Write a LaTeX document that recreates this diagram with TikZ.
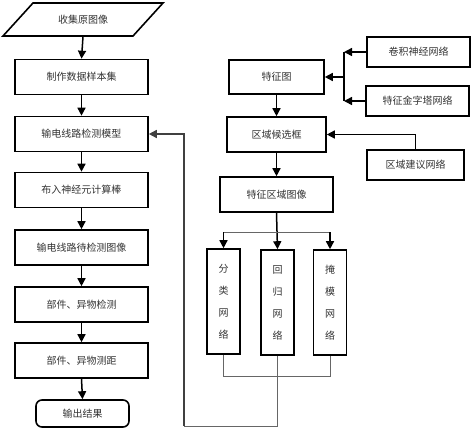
\documentclass[tikz,border=0pt]{standalone}
\usepackage{fontspec}
\newfontfamily\cjk{Noto Sans CJK SC}
\usetikzlibrary{arrows.meta}

\tikzstyle{block} = [draw, rectangle, line width=1.6pt, minimum height=35pt, inner sep=0pt, text=black!80, font=\cjk\fontsize{10}{12}\selectfont]
\tikzstyle{net} = [block, minimum height=30pt]
\tikzstyle{head} = [block, minimum width=33pt, minimum height=105pt, align=center, font=\cjk\fontsize{10}{22}\selectfont]
\tikzstyle{flow} = [line width=1.5pt, -{Triangle[length=8pt,width=8pt]}]
\tikzstyle{link} = [line width=0.9pt, draw=black!60]

\begin{document}
\begin{tikzpicture}[x=1pt, y=-1pt]

\def\colB{black!75};

\useasboundingbox (0,0) rectangle (474,440);

\draw[line width=1.6pt] (3,36) -- (33,3) -- (163,3) -- (133,36) -- cycle;
\node at (83,19.5)[block,draw=none,minimum width=120pt,minimum height=33pt]
      (collect) {收集原图像};

\node at (81.5,77)[block,minimum width=133pt] (sample) {制作数据样本集};
\node at (81.5,134)[block,minimum width=133pt] (model) {输电线路检测模型};
\node at (81.5,190)[block,minimum width=133pt] (stick) {布入神经元计算棒};
\node at (81.5,247.5)[block,minimum width=133pt] (pending) {输电线路待检测图像};
\node at (81.5,304.5)[block,minimum width=133pt] (detect) {部件、异物检测};
\node at (81.5,360.5)[block,minimum width=133pt] (range) {部件、异物测距};
\node at (82.5,413.5)[block,rounded corners=6pt,
      minimum width=93pt,minimum height=27pt] (result) {输出结果};

\draw[flow] (collect.south) -- (sample.north);
\draw[flow] (sample.south) -- (model.north);
\draw[flow] (model.south) -- (stick.north);
\draw[flow] (stick.south) -- (pending.north);
\draw[flow] (pending.south) -- (detect.north);
\draw[flow] (detect.south) -- (range.north);
\draw[flow] (range.south) -- (result.north);

\node at (276.5,77)[block,minimum width=95pt,minimum height=34pt] (fmap) {特征图};
\node at (276.5,134.5)[block,minimum width=99pt] (prop) {区域候选框};
\node at (276.5,194.5)[block,minimum width=113pt] (roi) {特征区域图像};

\node at (418.5,52)[net,minimum width=103pt] (cnn) {卷积神经网络};
\node at (417.5,101)[net,minimum width=103pt] (fpn) {特征金字塔网络};
\node at (415.5,165)[net,minimum width=97pt] (rpn) {区域建议网络};

\node at (223.5,301.5)[head] (cls) {分\\类\\网\\络};
\node at (277.5,302.5)[head] (reg) {回\\归\\网\\络};
\node at (330,302.5)[head] (mask) {掩\\模\\网\\络};

\coordinate (fork) at (344,77);
\coordinate (split) at (277.5,232);
\coordinate (back) at (184,426);

\draw[flow] (cnn.west) -- (cnn.west -| fork);
\draw[flow] (fpn.west) -- (fpn.west -| fork);
\draw[line width=1.5pt] (cnn.west -| fork) -- (fpn.west -| fork);
\draw[flow] (fork) -- (fmap.east);

\draw[flow] (fmap.south) -- (prop.north);
\draw[flow] (rpn.north) |- (prop.east);
\draw[flow] (prop.south) -- (roi.north);

\draw[flow] (roi.south) -- (reg.north);
\draw[link] (split -| cls.north) -- (split -| mask.north);
\draw[flow] (split -| cls.north) -- (cls.north);
\draw[flow] (split -| mask.north) -- (mask.north);

\draw[link] (cls.south) -- ++(0,22) -| (mask.south);
\draw[link] (reg.south) |- (back);
\draw[flow,\colB] (back) |- (model.east);

\end{tikzpicture}
\end{document}
